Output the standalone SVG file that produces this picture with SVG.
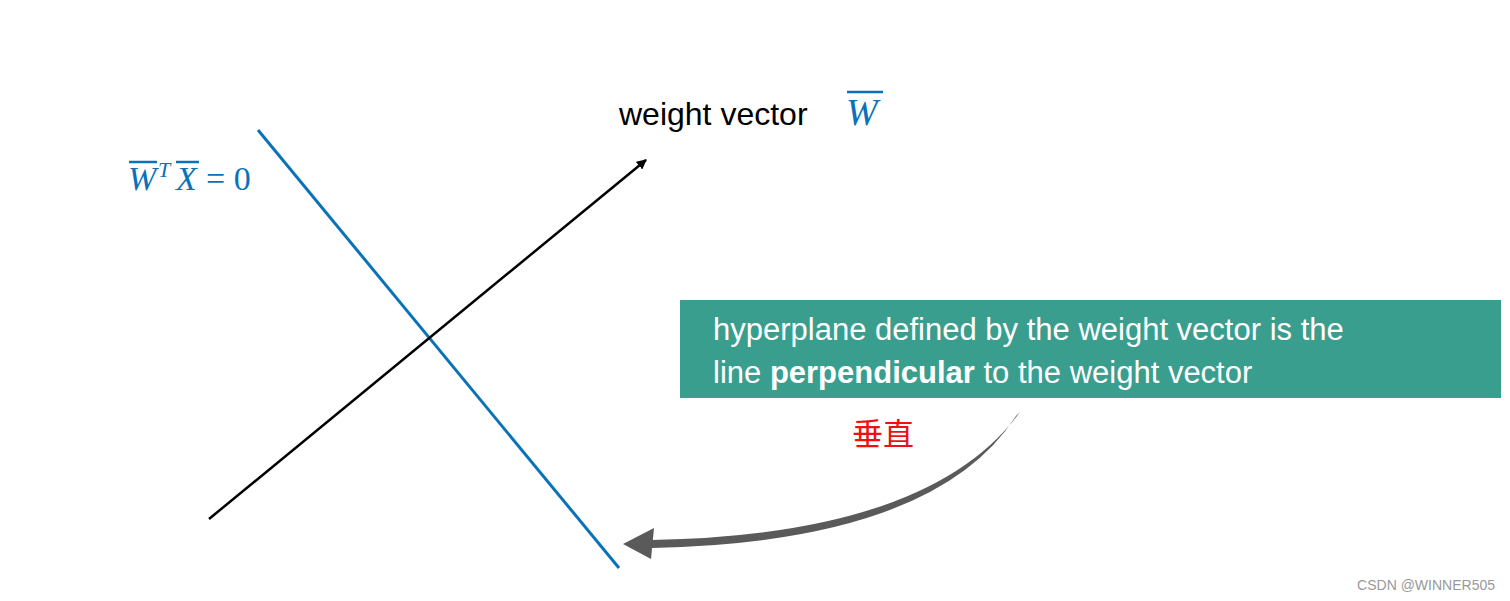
<svg xmlns="http://www.w3.org/2000/svg" width="1510" height="601" viewBox="0 0 1510 601">
<defs>
<marker id="ah" markerWidth="10" markerHeight="10" refX="9" refY="5" orient="auto" markerUnits="userSpaceOnUse" viewBox="0 0 10 10"><path d="M0,0 L10,5 L0,10 Z" fill="#000"/></marker>
<style>
.m{font-family:"Liberation Serif",serif;font-style:italic;fill:#0a72b8}
.t{font-family:"Liberation Sans",Arial,sans-serif;fill:#fff;font-size:31px}
</style>
</defs>
<rect width="1510" height="601" fill="#fff"/>
<g id="connectors">
<line x1="258" y1="130" x2="619" y2="568" stroke="#0a72b8" stroke-width="3"/>
<line x1="209" y1="519" x2="646" y2="160" stroke="#000" stroke-width="2.5" marker-end="url(#ah)"/>
<path d="M1020,412 Q930,535 652,540 L652,548 Q935,542 1016,416 Z" fill="#5a5a5a"/>
<path d="M623,544 L654,528 L651,559 Z" fill="#5a5a5a"/>
</g>
<g id="label-eq">
<text x="128" y="190" class="m" font-size="34">W</text>
<line x1="129" y1="162" x2="157" y2="162" stroke="#0a72b8" stroke-width="2.5"/>
<text x="158" y="177" class="m" font-size="22">T</text>
<text x="176" y="190" class="m" font-size="34">X</text>
<line x1="176" y1="162" x2="199" y2="162" stroke="#0a72b8" stroke-width="2.5"/>
<text x="206" y="190" font-family="Liberation Serif,serif" font-size="34" fill="#0a72b8">= 0</text>
</g>
<g id="label-w">
<text x="619" y="125" font-family="Liberation Sans,Arial,sans-serif" font-size="32" fill="#000">weight vector</text>
<text x="846" y="125" class="m" font-size="38">W</text>
<line x1="847" y1="92" x2="883" y2="92" stroke="#0a72b8" stroke-width="2.5"/>
</g>
<g id="box">
<rect x="680" y="300" width="821" height="98" fill="#3a9e8f"/>
<text x="713" y="340" class="t">hyperplane defined by the weight vector is the</text>
<text x="713" y="383" class="t">line <tspan font-weight="bold">perpendicular</tspan> to the weight vector</text>
</g>
<g id="label-cn">
<text x="852" y="445" font-family="Noto Sans CJK SC,sans-serif" font-size="31" fill="#f01010">垂直</text>
</g>
<text x="1495" y="590" text-anchor="end" font-family="Liberation Sans,Arial,sans-serif" font-size="14" fill="#999">CSDN @WINNER505</text>
</svg>
